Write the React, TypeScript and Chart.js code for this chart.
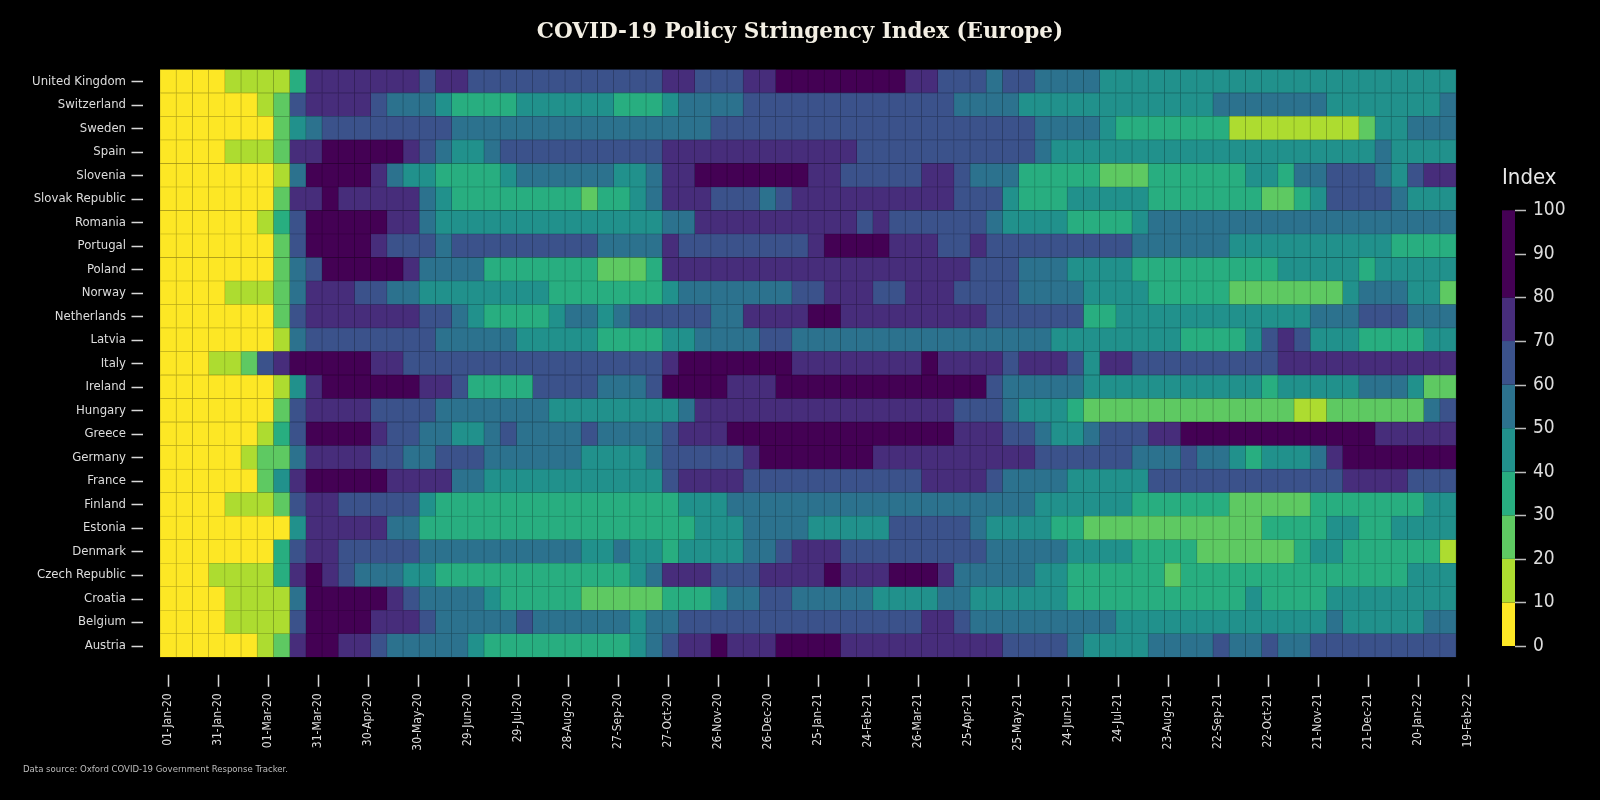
import React, { useEffect, useRef } from 'react';
import { Chart, registerables } from 'chart.js';

Chart.register(...registerables);

// ---------------- data ----------------
const countries = [
  'United Kingdom', 'Switzerland', 'Sweden', 'Spain', 'Slovenia', 'Slovak Republic',
  'Romania', 'Portugal', 'Poland', 'Norway', 'Netherlands', 'Latvia', 'Italy',
  'Ireland', 'Hungary', 'Greece', 'Germany', 'France', 'Finland', 'Estonia',
  'Denmark', 'Czech Republic', 'Croatia', 'Belgium', 'Austria',
];

// x tick values (days since 01-Jan-20) and their labels
const tickDays = [0, 30, 60, 90, 120, 150, 180, 210, 240, 270, 300, 330, 360, 390, 420, 450, 480, 510, 540, 570, 600, 630, 660, 690, 720, 750, 780];
const tickLabels = [
  '01-Jan-20', '31-Jan-20', '01-Mar-20', '31-Mar-20', '30-Apr-20', '30-May-20', '29-Jun-20',
  '29-Jul-20', '28-Aug-20', '27-Sep-20', '27-Oct-20', '26-Nov-20', '26-Dec-20', '25-Jan-21',
  '24-Feb-21', '26-Mar-21', '25-Apr-21', '25-May-21', '24-Jun-21', '24-Jul-21', '23-Aug-21',
  '22-Sep-21', '22-Oct-21', '21-Nov-21', '21-Dec-21', '20-Jan-22', '19-Feb-22',
];

const colorTicks = [0, 10, 20, 30, 40, 50, 60, 70, 80, 90, 100];
const binEdges = [0, 10, 20, 30, 40, 50, 60, 70, 80, 100];

// stringency index per period (one value per column, left to right)
const unitedKingdom = [
  5,5,5,5,15,15,15,15,35,75, 75,75,75,75,75,75,65,75,75,65, 65,65,65,65,65,65,65,65,65,65, 65,75,75,65,65,65,75,75,85,85,
  85,85,85,85,85,85,75,75,65,65, 65,55,65,65,55,55,55,55,45,45, 45,45,45,45,45,45,45,45,45,45, 45,45,45,45,45,45,45,45,45,45];
const switzerland = [
  5,5,5,5,5,5,15,25,65,75, 75,75,75,65,55,55,55,45,35,35, 35,35,45,45,45,45,45,45,35,35, 35,45,55,55,55,55,65,65,65,65,
  65,65,65,65,65,65,65,65,65,55, 55,55,55,45,45,45,45,45,45,45, 45,45,45,45,45,55,55,55,55,55, 55,55,45,45,45,45,45,45,45,55];
const sweden = [
  5,5,5,5,5,5,5,25,45,55, 65,65,65,65,65,65,65,65,55,55, 55,55,55,55,55,55,55,55,55,55, 55,55,55,55,65,65,65,65,65,65,
  65,65,65,65,65,65,65,65,65,65, 65,65,65,65,55,55,55,55,45,35, 35,35,35,35,35,35,15,15,15,15, 15,15,15,15,25,45,45,55,55,55];
const spain = [
  5,5,5,5,15,15,15,25,75,75, 85,85,85,85,85,75,65,55,45,45, 55,65,65,65,65,65,65,65,65,65, 65,75,75,75,75,75,75,75,75,75,
  75,75,75,65,65,65,65,65,65,65, 65,65,65,65,55,45,45,45,45,45, 45,45,45,45,45,45,45,45,45,45, 45,45,45,45,45,55,45,45,45,45];
const slovenia = [
  5,5,5,5,5,5,5,15,55,85, 85,85,85,75,55,45,45,35,35,35, 35,45,55,55,55,55,55,55,45,45, 55,75,75,85,85,85,85,85,85,85,
  75,75,65,65,65,65,65,75,75,65, 55,55,55,35,35,35,35,35,25,25, 25,35,35,35,35,35,35,45,45,35, 55,55,65,65,65,55,45,65,75,75];
const slovakRepublic = [
  5,5,5,5,5,5,5,25,75,75, 85,75,75,75,75,75,55,45,35,35, 35,35,35,35,35,35,25,35,35,45, 55,75,75,75,65,65,65,55,65,75,
  75,75,75,75,75,75,75,75,75,65, 65,65,45,35,35,35,45,45,45,45, 45,35,35,35,35,35,35,35,25,25, 35,45,65,65,65,65,55,45,45,45];
const romania = [
  5,5,5,5,5,5,15,35,65,85, 85,85,85,85,75,75,55,45,45,45, 45,45,45,45,45,45,45,45,45,45, 45,55,55,75,75,75,75,75,75,75,
  75,75,75,65,75,65,65,65,65,65, 65,55,45,45,45,45,35,35,35,35, 45,55,55,55,55,55,55,55,55,55, 55,55,55,55,55,55,55,55,55,55];
const portugal = [
  5,5,5,5,5,5,5,25,65,85, 85,85,85,75,65,65,65,55,65,65, 65,65,65,65,65,65,65,55,55,55, 55,75,65,65,65,65,65,65,65,65,
  75,85,85,85,85,75,75,75,65,65, 75,65,65,65,65,65,65,65,65,65, 55,55,55,55,55,55,45,45,45,45, 45,45,45,45,45,45,35,35,35,35];
const poland = [
  5,5,5,5,5,5,5,25,55,65, 85,85,85,85,85,75,55,55,55,55, 35,35,35,35,35,35,35,25,25,25, 35,75,75,75,75,75,75,75,75,75,
  75,75,75,75,75,75,75,75,75,75, 65,65,65,55,55,55,45,45,45,45, 35,35,35,35,35,35,35,35,35,45, 45,45,45,45,35,45,45,45,45,45];
const norway = [
  5,5,5,5,15,15,15,25,55,75, 75,75,65,65,55,55,45,45,45,45, 45,45,45,45,35,35,35,35,35,35, 35,45,55,55,55,55,55,55,55,65,
  65,75,75,75,65,65,75,75,75,65, 65,65,65,55,55,55,55,45,45,45, 45,35,35,35,35,35,25,25,25,25, 25,25,25,45,55,55,55,45,45,25];
const netherlands = [
  5,5,5,5,5,5,5,25,65,75, 75,75,75,75,75,75,65,65,55,45, 35,35,35,35,45,55,55,45,55,65, 65,65,65,65,55,55,75,75,75,75,
  85,85,75,75,75,75,75,75,75,75, 75,65,65,65,65,65,65,35,35,45, 45,45,45,45,45,45,45,45,45,45, 45,55,55,55,65,65,65,55,55,55];
const latvia = [
  5,5,5,5,5,5,5,15,55,65, 65,65,65,65,65,65,65,55,55,55, 55,55,45,45,45,45,45,35,35,35, 35,45,45,55,55,55,55,65,65,55,
  55,55,55,55,55,55,55,55,55,55, 55,55,55,55,55,45,45,45,45,45, 45,45,45,35,35,35,35,45,65,75, 65,45,45,45,35,35,35,35,45,45];
const italy = [
  5,5,5,15,15,25,65,75,85,85, 85,85,85,75,75,65,65,65,65,65, 65,65,65,65,65,65,65,65,65,65, 65,75,85,85,85,85,85,85,85,75,
  75,75,75,75,75,75,75,85,75,75, 75,75,65,75,75,75,65,45,75,75, 65,65,65,65,65,65,65,65,65,75, 75,75,75,75,75,75,75,75,75,75];
const ireland = [
  5,5,5,5,5,5,5,15,45,75, 85,85,85,85,85,85,75,75,65,35, 35,35,35,65,65,65,65,55,55,55, 65,85,85,85,85,75,75,75,85,85,
  85,85,85,85,85,85,85,85,85,85, 85,65,55,55,55,55,55,45,45,45, 45,45,45,45,45,45,45,45,35,45, 45,45,45,45,55,55,55,45,25,25];
const hungary = [
  5,5,5,5,5,5,5,25,65,75, 75,75,75,65,65,65,65,55,55,55, 55,55,55,55,45,45,45,45,45,45, 45,45,55,75,75,75,75,75,75,75,
  75,75,75,75,75,75,75,75,75,65, 65,65,55,45,45,45,35,25,25,25, 25,25,25,25,25,25,25,25,25,25, 15,15,25,25,25,25,25,25,55,65];
const greece = [
  5,5,5,5,5,5,15,35,65,85, 85,85,85,75,65,65,55,55,45,45, 55,65,55,55,55,55,65,55,55,55, 55,65,75,75,75,85,85,85,85,85,
  85,85,85,85,85,85,85,85,85,75, 75,75,65,65,55,45,45,55,65,65, 65,75,75,85,85,85,85,85,85,85, 85,85,85,85,85,75,75,75,75,75];
const germany = [
  5,5,5,5,5,15,25,25,55,75, 75,75,75,65,65,55,55,65,65,65, 55,55,55,55,55,55,45,45,45,45, 55,65,65,65,65,65,75,85,85,85,
  85,85,85,85,75,75,75,75,75,75, 75,75,75,75,65,65,65,65,65,65, 55,55,55,65,55,55,45,35,45,45, 45,55,75,85,85,85,85,85,85,85];
const france = [
  5,5,5,5,5,5,25,45,75,85, 85,85,85,85,75,75,75,75,55,55, 45,45,45,45,45,45,45,45,45,45, 45,65,75,75,75,75,65,65,65,65,
  65,65,65,65,65,65,65,75,75,75, 75,65,55,55,55,55,45,45,45,45, 45,65,65,65,65,65,65,65,65,65, 65,65,65,75,75,75,75,65,65,65];
const finland = [
  5,5,5,5,15,15,15,25,65,75, 75,65,65,65,65,65,45,35,35,35, 35,35,35,35,35,35,35,35,35,35, 35,35,45,45,45,55,55,55,55,55,
  55,55,55,55,55,55,55,55,55,55, 55,55,55,55,45,45,45,45,45,45, 35,35,35,35,35,35,25,25,25,25, 25,35,35,35,35,35,35,35,45,45];
const estonia = [
  5,5,5,5,5,5,5,5,45,75, 75,75,75,75,55,55,35,35,35,35, 35,35,35,35,35,35,35,35,35,35, 35,35,35,45,45,45,55,55,55,55,
  45,45,45,45,45,65,65,65,65,65, 55,45,45,45,45,35,35,25,25,25, 25,25,25,25,25,25,25,25,35,35, 35,35,45,45,35,35,45,45,45,45];
const denmark = [
  5,5,5,5,5,5,5,35,65,75, 75,65,65,65,65,65,55,55,55,55, 55,55,55,55,55,55,45,45,55,45, 45,35,45,45,45,45,55,55,65,75,
  75,75,65,65,65,65,65,65,65,65, 65,55,55,55,55,55,45,45,45,45, 35,35,35,35,25,25,25,25,25,25, 35,45,45,35,35,35,35,35,35,15];
const czechRepublic = [
  5,5,5,15,15,15,15,35,75,85, 75,65,55,55,55,45,45,35,35,35, 35,35,35,35,35,35,35,35,35,45, 55,75,75,75,65,65,65,75,75,75,
  75,85,75,75,75,85,85,85,75,55, 55,55,55,55,45,45,35,35,35,35, 35,35,25,35,35,35,35,35,35,35, 35,35,35,35,35,35,35,45,45,45];
const croatia = [
  5,5,5,5,15,15,15,15,55,85, 85,85,85,85,75,65,55,55,55,55, 45,35,35,35,35,35,25,25,25,25, 25,35,35,35,45,55,55,65,65,55,
  55,55,55,55,45,45,45,45,55,55, 45,45,45,45,45,45,35,35,35,35, 35,35,35,35,35,35,35,45,35,35, 35,35,45,45,45,45,45,45,45,45];
const belgium = [
  5,5,5,5,15,15,15,15,65,85, 85,85,85,75,75,75,65,55,55,55, 55,55,65,55,55,55,55,55,55,45, 55,55,65,65,65,65,65,65,65,65,
  65,65,65,65,65,65,65,75,75,65, 55,55,55,55,55,55,55,55,55,45, 45,45,45,45,45,45,45,45,45,45, 45,45,55,45,45,45,45,45,55,55];
const austria = [
  5,5,5,5,5,5,15,25,75,85, 85,75,75,65,55,55,55,55,55,45, 35,35,35,35,35,35,35,35,35,45, 55,65,75,75,85,75,75,75,85,85,
  85,85,75,75,75,75,75,75,75,75, 75,75,65,65,65,65,55,45,45,45, 45,55,55,55,55,65,55,55,65,55, 55,65,65,65,65,65,65,65,65,65];

const rows = [
  unitedKingdom, switzerland, sweden, spain, slovenia, slovakRepublic, romania, portugal,
  poland, norway, netherlands, latvia, italy, ireland, hungary, greece, germany, france,
  finland, estonia, denmark, czechRepublic, croatia, belgium, austria,
];

// ---------------- styling ----------------
const binColors = ['#fde725', '#addc30', '#5ec962', '#28ae80', '#21918c', '#2c728e', '#3b528b', '#472d7b', '#440154'];
const SANS = '"DejaVu Sans Condensed", "DejaVu Sans", sans-serif';
const TITLE = 'COVID-19 Policy Stringency Index (Europe)';
const SOURCE = 'Data source: Oxford COVID-19 Government Response Tracker.';

const X_MIN = -5;
const X_MAX = 784;
const C_MIN = -2.59;
const C_MAX = 132.34;
const PERIOD_START = -5; // day offset of first column's left edge
const PERIOD_SPAN = 9.72; // width of one column in days

function colorFor(v: number) {
  return binColors[Math.max(0, Math.min(8, Math.floor(v / 10)))];
}
function shade(hex: string, f = 0.72) {
  const n = parseInt(hex.slice(1), 16);
  const r = Math.round(((n >> 16) & 255) * f);
  const g = Math.round(((n >> 8) & 255) * f);
  const b = Math.round((n & 255) * f);
  return `rgb(${r},${g},${b})`;
}

const decorPlugin = {
  id: 'decor',
  afterDraw(chart: any) {
    const { ctx, chartArea, scales } = chart;
    const x = scales.x, y = scales.y, c = scales.c;
    ctx.save();
    // axis tick marks (offset from heatmap)
    ctx.strokeStyle = '#d8d8d8';
    ctx.lineWidth = 1.5;
    ctx.beginPath();
    countries.forEach((_, i) => {
      const py = Math.round(y.getPixelForValue(i)) + 0.5;
      ctx.moveTo(chartArea.left - 28.5, py);
      ctx.lineTo(chartArea.left - 17, py);
    });
    tickDays.forEach((d) => {
      const px = Math.round(x.getPixelForValue(d)) + 0.5;
      ctx.moveTo(px, chartArea.bottom + 17.5);
      ctx.lineTo(px, chartArea.bottom + 29.5);
    });
    ctx.stroke();

    // colour bar
    const barLeft = c.left + 27;
    const barW = 13;
    for (let k = 0; k < binColors.length; k++) {
      const top = c.getPixelForValue(binEdges[k + 1]);
      const bot = c.getPixelForValue(binEdges[k]);
      ctx.fillStyle = binColors[k];
      ctx.fillRect(barLeft, top, barW, bot - top);
    }
    ctx.beginPath();
    colorTicks.forEach((v) => {
      const py = Math.round(c.getPixelForValue(v)) + 0.5;
      ctx.moveTo(barLeft + barW, py);
      ctx.lineTo(barLeft + barW + 11, py);
    });
    ctx.strokeStyle = '#bdbdbd';
    ctx.stroke();

    ctx.fillStyle = '#e8e8e8';
    ctx.font = `22px ${SANS}`;
    ctx.textAlign = 'left';
    ctx.textBaseline = 'middle';
    ctx.fillText('Index', barLeft, 178);

    ctx.font = 'bold 21.5px "DejaVu Serif", serif';
    ctx.textAlign = 'center';
    ctx.fillStyle = '#f3efe4';
    ctx.fillText(TITLE, 800, 32);

    ctx.font = `9.5px ${SANS}`;
    ctx.textAlign = 'left';
    ctx.fillStyle = '#bdbdbd';
    ctx.fillText(SOURCE, 23, 770);
    ctx.restore();
  },
};

export default function App() {
  const ref = useRef<HTMLCanvasElement>(null);
  useEffect(() => {
    const canvas = ref.current;
    if (!canvas) return;
    const nCols = rows[0].length;
    const datasets = Array.from({ length: nCols }, (_, j) => ({
      label: `p${j}`,
      data: countries.map(() => [PERIOD_START + j * PERIOD_SPAN, PERIOD_START + (j + 1) * PERIOD_SPAN]),
      backgroundColor: (ctx: any) => (ctx.dataIndex == null ? '#000' : colorFor(rows[ctx.dataIndex][j])),
      borderColor: (ctx: any) => (ctx.dataIndex == null ? '#000' : shade(colorFor(rows[ctx.dataIndex][j]))),
      borderWidth: 0.6,
      borderSkipped: false,
      grouped: false,
      barPercentage: 1,
      categoryPercentage: 1,
    }));

    const chart = new Chart(canvas, {
      type: 'bar',
      data: { labels: countries, datasets: datasets as any },
      options: {
        indexAxis: 'y',
        responsive: false,
        animation: false,
        events: [],
        layout: { padding: { top: 69, left: 0, right: 0, bottom: 0 } },
        plugins: { legend: { display: false }, tooltip: { enabled: false }, title: { display: false } },
        scales: {
          x: {
            type: 'linear',
            position: 'bottom',
            min: X_MIN,
            max: X_MAX,
            offset: false,
            bounds: 'data',
            grid: { display: false, drawTicks: false },
            border: { display: false },
            afterBuildTicks: (s: any) => {
              s.ticks = tickDays.map((v) => ({ value: v }));
              s.min = X_MIN;
              s.max = X_MAX;
            },
            afterFit: (s: any) => { s.height = 142.7; },
            ticks: {
              autoSkip: false,
              maxRotation: 90,
              minRotation: 90,
              padding: 36,
              color: '#dddddd',
              font: { family: SANS, size: 12 },
              callback: (_v: any, i: number) => tickLabels[i],
            },
          },
          y: {
            type: 'category',
            position: 'left',
            offset: true,
            grid: { display: false, drawTicks: false, offset: true },
            border: { display: false },
            afterFit: (s: any) => { s.width = 160; },
            ticks: { autoSkip: false, padding: 34, color: '#dddddd', font: { family: SANS, size: 13 } },
          },
          c: {
            type: 'linear',
            position: 'right',
            min: C_MIN,
            max: C_MAX,
            offset: false,
            bounds: 'data',
            grid: { display: false, drawTicks: false, offset: false },
            border: { display: false },
            afterBuildTicks: (s: any) => {
              s.ticks = colorTicks.map((v) => ({ value: v }));
              s.min = C_MIN;
              s.max = C_MAX;
            },
            afterFit: (s: any) => { s.width = 125; },
            ticks: { padding: 58, color: '#dddddd', font: { family: SANS, size: 19 } },
          },
        },
      } as any,
      plugins: [decorPlugin],
    });
    return () => chart.destroy();
  }, []);

  return (
    <div style={{ position: 'fixed', left: 0, top: 0, width: 1600, height: 800, background: '#000' }}>
      <canvas ref={ref} width={1600} height={800} style={{ display: 'block', width: 1600, height: 800 }} />
    </div>
  );
}
